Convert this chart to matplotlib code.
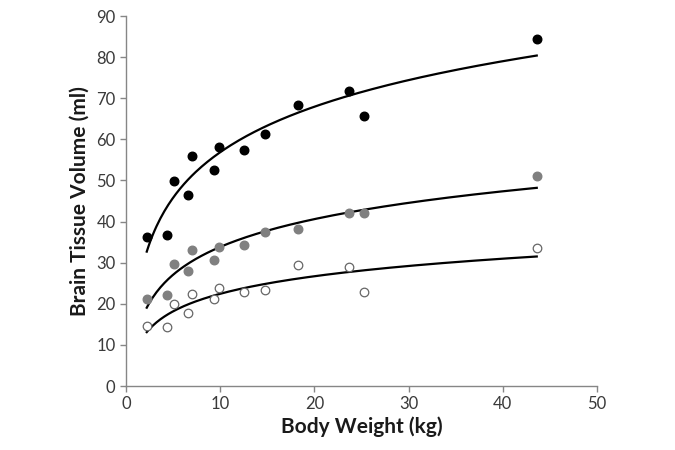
import numpy as np
import matplotlib
matplotlib.use("Agg")
import matplotlib.pyplot as plt

plt.rcParams['font.family'] = ['Lato', 'DejaVu Sans']

# body weight (kg), shared by the three groups
weight = [2.2, 4.4, 5.1, 6.6, 7.0, 9.3, 9.9, 12.5, 14.7, 18.3, 23.7, 25.3, 43.6]

volume_black = [36.2, 36.7, 49.9, 46.5, 56.0, 52.5, 58.1, 57.4, 61.3, 68.4, 71.8, 65.7, 84.5]
volume_gray = [21.2, 22.1, 29.7, 28.0, 33.0, 30.7, 33.7, 34.2, 37.5, 38.1, 42.2, 42.2, 51.0]
volume_open = [14.5, 14.4, 19.9, 17.8, 22.5, 21.2, 23.8, 22.8, 23.4, 29.5, 29.0, 22.9, 33.6]

# logarithmic trend lines (y = a + b ln x)
trend_black = (20.1, 15.97)
trend_gray = (11.36, 9.76)
trend_open = (8.25, 6.16)

fig = plt.figure(figsize=(6.75, 4.5), dpi=100)
ax = fig.add_axes([0.1867, 0.1422, 0.6978, 0.8222])

x = np.array(weight)
xs = np.linspace(min(weight), max(weight), 200)
for a, b in (trend_black, trend_gray, trend_open):
    ax.plot(xs, a + b * np.log(xs), color='black', lw=1.6, zorder=2)

ax.scatter(x, volume_black, s=38, color='black', zorder=3)
ax.scatter(x, volume_gray, s=38, color='#808080', zorder=3)
ax.scatter(x, volume_open, s=38, facecolor='white', edgecolor='#666666', lw=0.9, zorder=3)

ax.set_xlim(0, 50)
ax.set_ylim(0, 90)
ax.set_xticks(range(0, 51, 10))
ax.set_yticks(range(0, 91, 10))

for side in ('top', 'right'):
    ax.spines[side].set_visible(False)
for side in ('left', 'bottom'):
    ax.spines[side].set_color('#868686')
    ax.spines[side].set_linewidth(1.0)
ax.tick_params(colors='#868686', labelcolor='#3a3a3a', labelsize=12, length=4, width=1.0)

ax.set_xlabel('Body Weight (kg)', fontsize=15, fontweight='bold', color='#1a1a1a', labelpad=3)
ax.set_ylabel('Brain Tissue Volume (ml)', fontsize=15, fontweight='bold', color='#1a1a1a', labelpad=5)

fig.savefig('out.png', dpi=100)
